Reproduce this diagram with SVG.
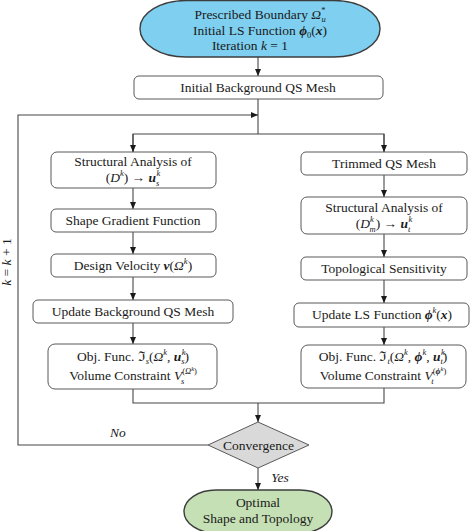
<svg xmlns="http://www.w3.org/2000/svg" width="474" height="531" viewBox="0 0 474 531">
<style>
.t{font-family:"Liberation Serif","Times New Roman",serif;font-size:13.5px;fill:#1a1a1a;text-anchor:middle}
.i{font-style:italic}
.bi{font-style:italic;font-weight:bold}
.sm{font-size:8.5px}
.xs{font-size:6.5px}
.box{fill:#ffffff;stroke:#595959;stroke-width:1}
.ln{fill:none;stroke:#474747;stroke-width:1.1}
</style>
<defs>
<marker id="ah" markerUnits="userSpaceOnUse" markerWidth="8" markerHeight="7" refX="7" refY="3" orient="auto">
<path d="M0,0 L7,3 L0,6 z" fill="#1a1a1a"/>
</marker>
</defs>
<rect width="474" height="531" fill="#ffffff"/>
<g id="connectors">
<line class="ln" x1="258" y1="57" x2="258" y2="76" marker-end="url(#ah)"/>
<line class="ln" x1="258" y1="99" x2="258" y2="134"/>
<polyline class="ln" points="133,152 133,134 384,134 384,152"/>
<line class="ln" x1="133" y1="134" x2="133" y2="152" marker-end="url(#ah)"/>
<line class="ln" x1="384" y1="134" x2="384" y2="152" marker-end="url(#ah)"/>
<line class="ln" x1="133" y1="188" x2="133" y2="209" marker-end="url(#ah)"/>
<line class="ln" x1="133" y1="232" x2="133" y2="254" marker-end="url(#ah)"/>
<line class="ln" x1="133" y1="277" x2="133" y2="300" marker-end="url(#ah)"/>
<line class="ln" x1="133" y1="323" x2="133" y2="344" marker-end="url(#ah)"/>
<line class="ln" x1="384" y1="175" x2="384" y2="197" marker-end="url(#ah)"/>
<line class="ln" x1="384" y1="234" x2="384" y2="257" marker-end="url(#ah)"/>
<line class="ln" x1="384" y1="280" x2="384" y2="303" marker-end="url(#ah)"/>
<line class="ln" x1="384" y1="327" x2="384" y2="345" marker-end="url(#ah)"/>
<polyline class="ln" points="133,389 133,403 384,403 384,388"/>
<line class="ln" x1="258" y1="403" x2="258" y2="422" marker-end="url(#ah)"/>
<line class="ln" x1="258" y1="468" x2="258" y2="490" marker-end="url(#ah)"/>
<polyline class="ln" points="208,445 18,445 18,115 258,115" marker-end="url(#ah)"/>
<text class="t i" x="118" y="437">No</text>
<text class="t i" x="280" y="482">Yes</text>
<text class="t" transform="translate(11,262) rotate(-90)"><tspan class="i">k</tspan> = <tspan class="i">k</tspan> + 1</text>
</g>
<g id="start">
<rect x="140" y="0.5" width="240" height="56.5" rx="46" ry="28" fill="#7ecff0" stroke="#3d3d3d" stroke-width="1.4"/>
<text class="t" x="260" y="19">Prescribed Boundary <tspan class="i">Ω</tspan><tspan class="sm" dy="-6">*</tspan><tspan class="sm i" dx="-4" dy="9">u</tspan></text>
<text class="t" x="260" y="35">Initial LS Function <tspan class="bi">ϕ</tspan><tspan class="sm" dy="3">0</tspan><tspan dy="-3">(</tspan><tspan class="bi">x</tspan>)</text>
<text class="t" x="250" y="50">Iteration <tspan class="i">k</tspan> = 1</text>
</g>
<g id="initMesh">
<rect class="box" x="134" y="76" width="249" height="23" rx="5"/>
<text class="t" x="258" y="92">Initial Background QS Mesh</text>
</g>
<g id="structS">
<rect class="box" x="51" y="152" width="165" height="36" rx="6"/>
<text class="t" x="133" y="166">Structural Analysis of</text>
<text class="t" x="133" y="182">(<tspan class="i">D</tspan><tspan class="sm i" dy="-6">k</tspan><tspan dy="6">) → </tspan><tspan class="bi">u</tspan><tspan class="sm i" dx="0.5" dy="-6">k</tspan><tspan class="sm i" dx="-4.3" dy="10">s</tspan></text>
</g>
<g id="shapeGrad">
<rect class="box" x="51" y="209" width="165" height="23" rx="5"/>
<text class="t" x="133" y="225">Shape Gradient Function</text>
</g>
<g id="designVel">
<rect class="box" x="51" y="254" width="165" height="23" rx="5"/>
<text class="t" x="133" y="270">Design Velocity <tspan class="bi">v</tspan>(<tspan class="i">Ω</tspan><tspan class="sm i" dy="-6">k</tspan><tspan dy="6">)</tspan></text>
</g>
<g id="updateBg">
<rect class="box" x="33" y="300" width="200" height="23" rx="5"/>
<text class="t" x="133" y="316">Update Background QS Mesh</text>
</g>
<g id="objS">
<rect class="box" x="48" y="344" width="169" height="45" rx="7"/>
<text class="t" x="133" y="361">Obj. Func. ℑ<tspan class="sm i" dy="3">s</tspan><tspan dy="-3">(</tspan><tspan class="i">Ω</tspan><tspan class="sm i" dy="-6">k</tspan><tspan dy="6">, </tspan><tspan class="bi">u</tspan><tspan class="sm i" dx="0.5" dy="-6">k</tspan><tspan class="sm i" dx="-4.3" dy="9">s</tspan><tspan dy="-3">)</tspan></text>
<text class="t" x="133" y="380">Volume Constraint <tspan class="i">V</tspan><tspan class="sm" dy="-6">(</tspan><tspan class="sm i">Ω</tspan><tspan class="xs i" dy="-3">k</tspan><tspan class="sm" dy="3">)</tspan><tspan class="sm i" dx="-16" dy="9.5">s</tspan></text>
</g>
<g id="trimmed">
<rect class="box" x="301" y="152" width="166" height="23" rx="5"/>
<text class="t" x="384" y="168">Trimmed QS Mesh</text>
</g>
<g id="structT">
<rect class="box" x="301" y="197" width="166" height="37" rx="6"/>
<text class="t" x="384" y="212">Structural Analysis of</text>
<text class="t" x="384" y="228">(<tspan class="i">D</tspan><tspan class="sm i" dy="-6">k</tspan><tspan class="sm i" dx="-4.3" dy="10">m</tspan><tspan dy="-4">) → </tspan><tspan class="bi">u</tspan><tspan class="sm i" dx="0.5" dy="-6">k</tspan><tspan class="sm i" dx="-4.3" dy="10">t</tspan></text>
</g>
<g id="topoSens">
<rect class="box" x="301" y="257" width="166" height="23" rx="5"/>
<text class="t" x="384" y="273">Topological Sensitivity</text>
</g>
<g id="updateLS">
<rect class="box" x="294" y="303" width="175" height="24" rx="5"/>
<text class="t" x="382" y="319">Update LS Function <tspan class="bi">ϕ</tspan><tspan class="sm i" dy="-6">k</tspan><tspan dy="6">(</tspan><tspan class="bi">x</tspan>)</text>
</g>
<g id="objT">
<rect class="box" x="301" y="345" width="165" height="43" rx="7"/>
<text class="t" x="383" y="361">Obj. Func. ℑ<tspan class="sm i" dy="3">t</tspan><tspan dy="-3">(</tspan><tspan class="i">Ω</tspan><tspan class="sm i" dy="-6">k</tspan><tspan dy="6">, </tspan><tspan class="bi">ϕ</tspan><tspan class="sm i" dy="-6">k</tspan><tspan dy="6">, </tspan><tspan class="bi">u</tspan><tspan class="sm i" dx="0.5" dy="-6">k</tspan><tspan class="sm i" dx="-4.3" dy="9">t</tspan><tspan dy="-3">)</tspan></text>
<text class="t" x="383" y="380">Volume Constraint <tspan class="i">V</tspan><tspan class="sm" dy="-6">(</tspan><tspan class="sm bi">ϕ</tspan><tspan class="xs i" dy="-3">k</tspan><tspan class="sm" dy="3">)</tspan><tspan class="sm i" dx="-15" dy="9.5">t</tspan></text>
</g>
<g id="convergence">
<polygon points="258,422 309,445 258,468 208,445" fill="#d9d9d9" stroke="#595959" stroke-width="1"/>
<text class="t" x="258.5" y="449.5">Convergence</text>
</g>
<g id="end">
<rect x="184" y="490" width="148" height="43" rx="32" ry="21.5" fill="#c5e0b4" stroke="#3d3d3d" stroke-width="1.4"/>
<text class="t" x="258" y="507">Optimal</text>
<text class="t" x="258" y="523">Shape and Topology</text>
</g>
</svg>
